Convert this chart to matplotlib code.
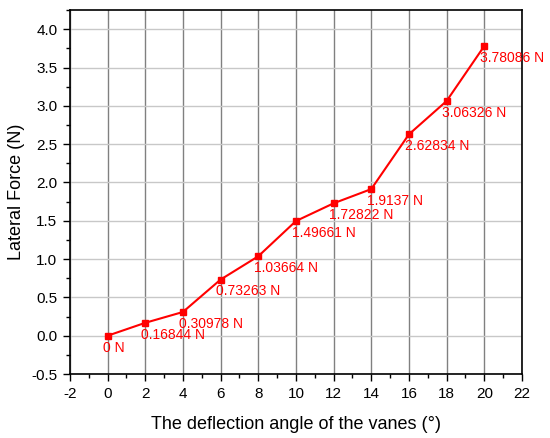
import matplotlib
matplotlib.use('Agg')
import matplotlib.pyplot as plt
from matplotlib.ticker import MultipleLocator

angles = [0, 2, 4, 6, 8, 10, 12, 14, 16, 18, 20]
forces = [0, 0.16844, 0.30978, 0.73263, 1.03664, 1.49661, 1.72822, 1.9137, 2.62834, 3.06326, 3.78086]
labels = ['0 N', '0.16844 N', '0.30978 N', '0.73263 N', '1.03664 N', '1.49661 N',
          '1.72822 N', '1.9137 N', '2.62834 N', '3.06326 N', '3.78086 N']

plt.rcParams['font.family'] = ['Liberation Sans', 'DejaVu Sans']
plt.rcParams['axes.unicode_minus'] = False

fig = plt.figure(figsize=(5.5, 4.38), dpi=100)
ax = fig.add_axes([0.127, 0.146, 0.822, 0.831])

ax.set_xlim(-2, 22)
ax.set_ylim(-0.5, 4.25)
ax.xaxis.set_major_locator(MultipleLocator(2))
ax.xaxis.set_minor_locator(MultipleLocator(1))
ax.yaxis.set_major_locator(MultipleLocator(0.5))
ax.yaxis.set_minor_locator(MultipleLocator(0.25))

ax.grid(True, axis='x', which='major', color='#808080', linewidth=1.0)
ax.grid(True, axis='y', which='major', color='#c8c8c8', linewidth=1.0)
ax.set_axisbelow(True)

ax.plot(angles, forces, color='red', linewidth=1.5, marker='s', markersize=4, zorder=3)
for a, f, t in zip(angles, forces, labels):
  ax.annotate(t, (a, f), xytext=(-3, -3.5), textcoords='offset points',
              ha='left', va='top', color='red', fontsize=10)

ax.tick_params(which='both', direction='out', labelsize=11, color='black', pad=4)
ax.tick_params(which='major', length=5, width=1)
ax.tick_params(which='minor', length=3, width=1)
for s in ax.spines.values():
  s.set_linewidth(1.2)

ax.set_xlabel('The deflection angle of the vanes (°)', fontsize=13, labelpad=11)
ax.set_ylabel('Lateral Force (N)', fontsize=13)
ax.yaxis.set_label_coords(-0.10, 0.5)

fig.savefig('out.png', dpi=100)
